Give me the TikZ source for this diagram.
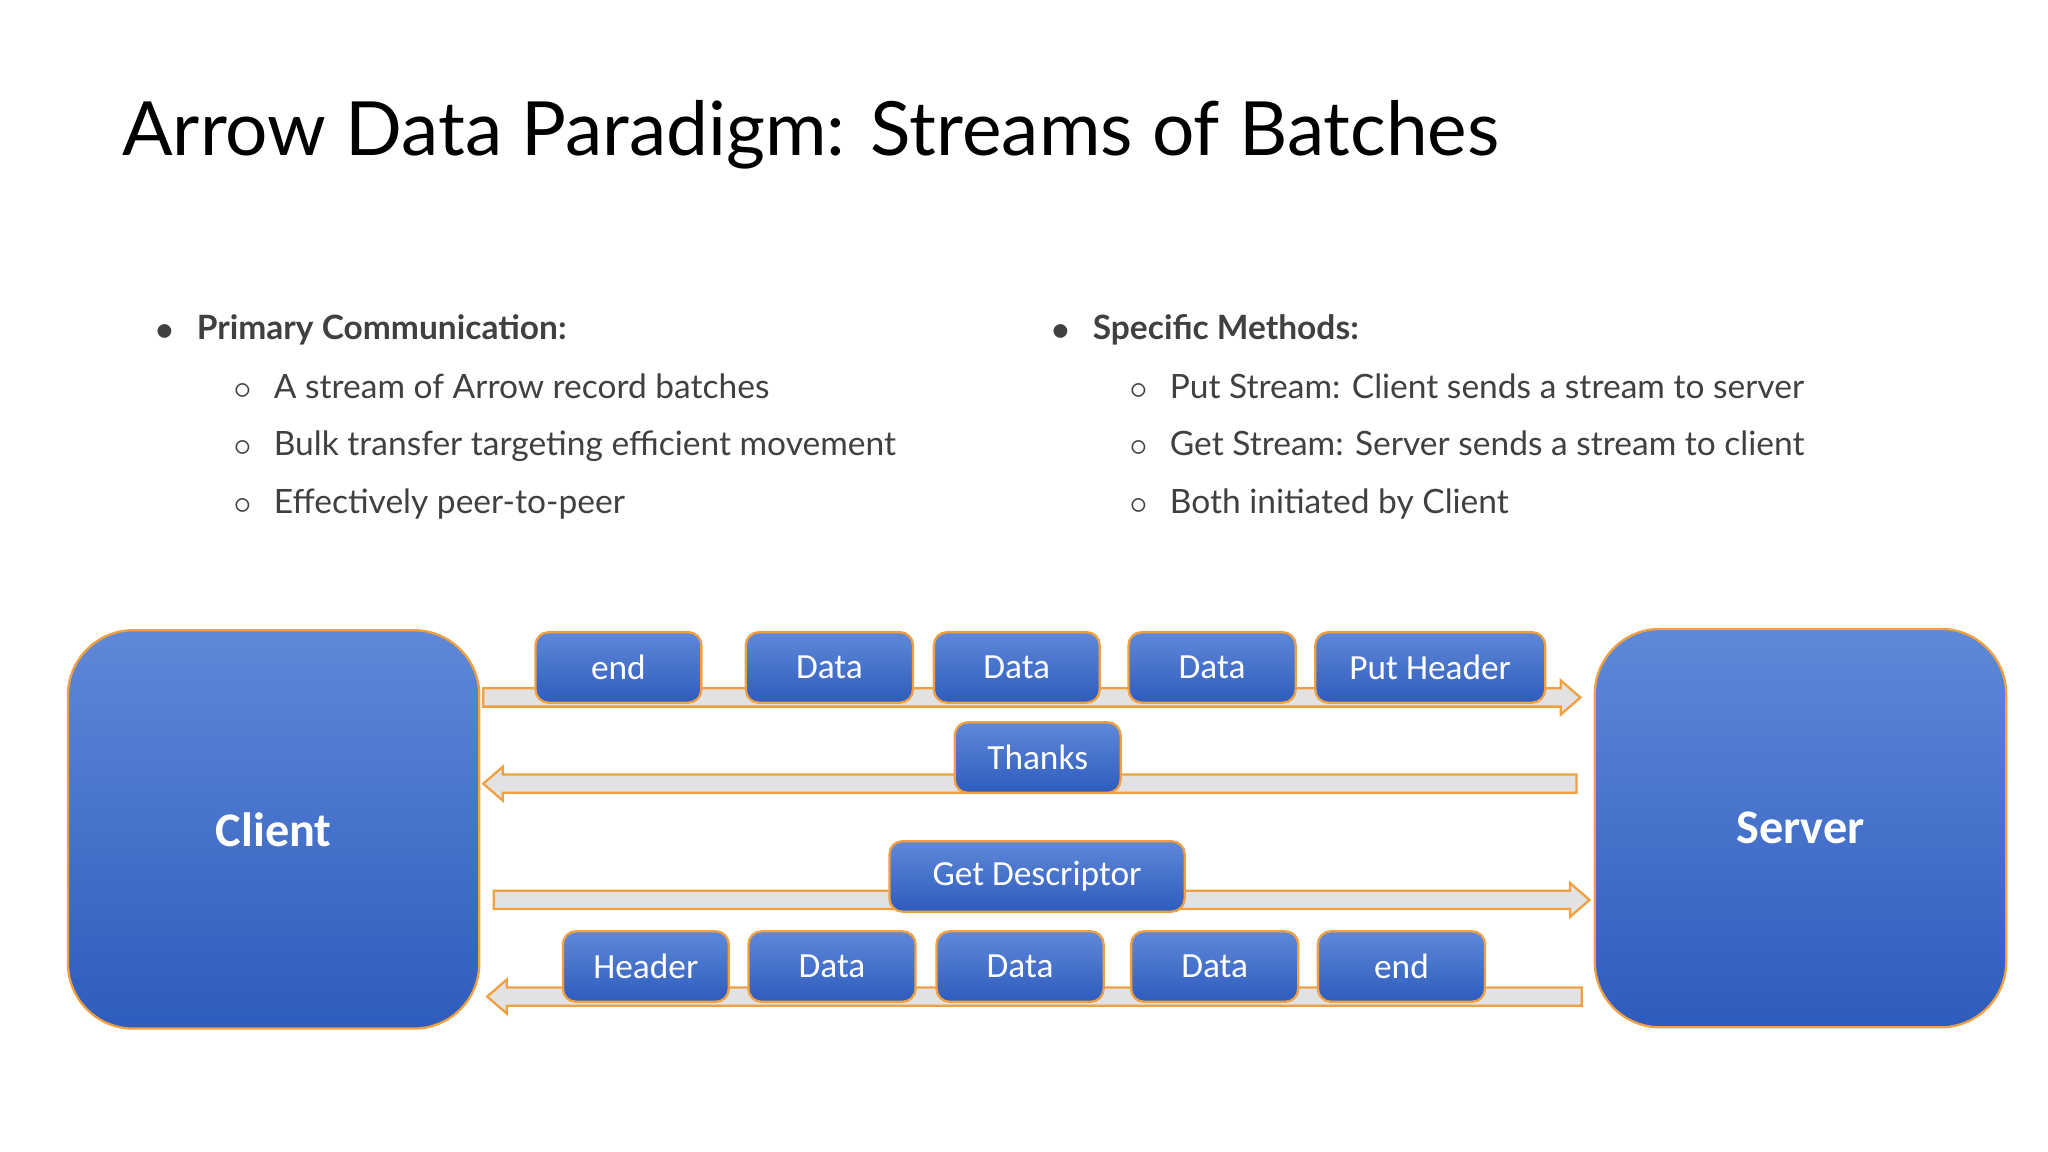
\documentclass[tikz,border=0pt]{standalone}
\usepackage{fontspec}
\setmainfont{Lato}
\newfontfamily\boxfont{Carlito}
\definecolor{tgray}{HTML}{404040}
\definecolor{bord}{HTML}{F0A040}
\definecolor{btop}{HTML}{5F88D8}
\definecolor{bbot}{HTML}{2E5CBE}
\definecolor{shaft}{HTML}{E2E2E2}
\begin{document}
\begin{tikzpicture}[x=0.1mm,y=-0.1mm,
 box/.style={draw=bord,line width=0.5pt,rounded corners=1mm,top color=btop,bottom color=bbot,text=white,font=\boxfont\fontsize{7.7}{9}\selectfont,inner sep=0pt,minimum height=5.4mm},
 big/.style={draw=bord,line width=0.5pt,rounded corners=5mm,top color=btop,bottom color=bbot,text=white,font=\boxfont\bfseries\fontsize{10.5}{12}\selectfont,minimum width=31.5mm,minimum height=30.5mm},
 arr/.style={draw=bord,fill=shaft,line width=0.5pt},
 bl/.style={anchor=base west,text=tgray,font=\fontsize{7.3}{9}\selectfont,inner sep=0pt},
 bh/.style={bl,font=\bfseries\fontsize{7.3}{9}\selectfont}]
\useasboundingbox (0,0) rectangle (1568,882);
\node[anchor=base west,inner sep=0pt,font=\fontsize{16.3}{19}\selectfont] (title) at (93,119) {Arrow Data Paradigm: Streams of Batches};
% bullets
\node[bl] (b1) at (118,260) {$\bullet$};
\node[bh] (h1) at (150,260) {Primary Communication:};
\node[bl] (s11) at (178,305) {$\circ$};
\node[bl] (t11) at (209,305) {A stream of Arrow record batches};
\node[bl] (s12) at (178,349) {$\circ$};
\node[bl] (t12) at (209,349) {Bulk transfer targeting efficient movement};
\node[bl] (s13) at (178,393) {$\circ$};
\node[bl] (t13) at (209,393) {Effectively peer-to-peer};
\node[bl] (b2) at (804,260) {$\bullet$};
\node[bh] (h2) at (836,260) {Specific Methods:};
\node[bl] (s21) at (864,305) {$\circ$};
\node[bl] (t21) at (895,305) {Put Stream: Client sends a stream to server};
\node[bl] (s22) at (864,349) {$\circ$};
\node[bl] (t22) at (895,349) {Get Stream: Server sends a stream to client};
\node[bl] (s23) at (864,393) {$\circ$};
\node[bl] (t23) at (895,393) {Both initiated by Client};
% client / server
\node[big] (client) at (209.5,635) {Client};
\node[big] (server) at (1378.5,634) {Server};
% arrows
\draw[arr] (370,527) -- (1195,527) -- (1195,521) -- (1210,534) -- (1195,547) -- (1195,541) -- (370,541) -- cycle;
\draw[arr] (1207,593) -- (385,593) -- (385,587) -- (370,600) -- (385,613) -- (385,607) -- (1207,607) -- cycle;
\draw[arr] (378,682) -- (1202,682) -- (1202,676) -- (1217,689) -- (1202,702) -- (1202,696) -- (378,696) -- cycle;
\draw[arr] (1211,756) -- (388,756) -- (388,750) -- (373,763) -- (388,776) -- (388,770) -- (1211,770) -- cycle;
% top row
\node[box,minimum width=12.7mm] (e1) at (473.5,511) {end};
\node[box,minimum width=12.8mm] (d1) at (635,511) {Data};
\node[box,minimum width=12.7mm] (d2) at (778.5,511) {Data};
\node[box,minimum width=12.8mm] (d3) at (928,511) {Data};
\node[box,minimum width=17.6mm] (ph) at (1095,511) {Put Header};
\node[box,minimum width=12.7mm] (th) at (794.5,580) {Thanks};
\node[box,minimum width=22.6mm] (gd) at (794,671) {Get Descriptor};
\node[box,minimum width=12.7mm] (hd) at (494.5,740) {Header};
\node[box,minimum width=12.8mm] (d4) at (637,740) {Data};
\node[box,minimum width=12.8mm] (d5) at (781,740) {Data};
\node[box,minimum width=12.8mm] (d6) at (930,740) {Data};
\node[box,minimum width=12.8mm] (e2) at (1073,740) {end};
\end{tikzpicture}
\end{document}
